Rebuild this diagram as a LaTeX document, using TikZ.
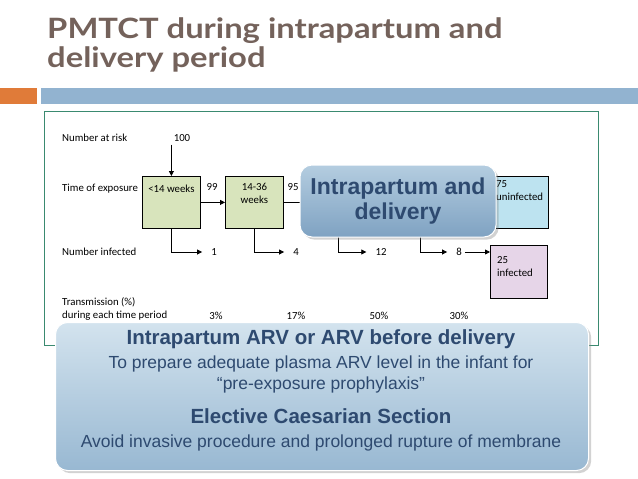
\documentclass[tikz,border=0pt]{standalone}
\usepackage{fontspec}
\setmainfont{Liberation Sans}
\newfontfamily\titlefont{Lato}
\newfontfamily\smallfont{Carlito}
\usetikzlibrary{arrows.meta,shadows}
\definecolor{titlec}{HTML}{74625B}
\definecolor{orangec}{HTML}{E07B39}
\definecolor{bluebar}{HTML}{92B3D0}
\definecolor{frame}{HTML}{3A8A70}
\definecolor{greenbox}{HTML}{D8E4BC}
\definecolor{bluebox}{HTML}{BDE3F0}
\definecolor{pinkbox}{HTML}{E6D5E8}
\definecolor{txtc}{HTML}{2E4A70}
\definecolor{ovtop}{HTML}{B4CDE0}
\definecolor{ovbot}{HTML}{7FA2C2}
\definecolor{bptop}{HTML}{D3E3EE}
\definecolor{bpbot}{HTML}{98B8D2}
\tikzset{
  lab/.style={font=\smallfont\fontsize{10.8}{13}\selectfont, anchor=west, inner sep=0},
  num/.style={font=\smallfont\fontsize{10.8}{13}\selectfont, inner sep=0},
  stage/.style={draw=black, line width=0.8pt, minimum width=58pt, minimum height=52pt, inner sep=0, anchor=north west},
  arr/.style={-{Triangle[length=5pt,width=5pt]}, line width=0.8pt},
  panel/.style={rounded corners=12pt, draw=white, line width=1pt, drop shadow={opacity=0.35}},
}
\begin{document}
\begin{tikzpicture}[x=1pt,y=-1pt]
\useasboundingbox (0,0) rectangle (638,479);
\fill[white] (0,0) rectangle (638,479);
\node[font=\titlefont\bfseries\fontsize{28}{29}\selectfont, text=titlec, anchor=north west, align=left, inner sep=0, xscale=1.17] (title) at (47,17) {PMTCT during intrapartum and\\delivery period};
\fill[orangec] (0,88) rectangle (37,104);
\fill[bluebar] (41,88) rectangle (638,104);
\draw[frame, line width=0.8pt] (44,111) rectangle (598,345);
% labels
\node[lab] (l1) at (62,138) {Number at risk};
\node[lab] (l2) at (62,189) {Time of exposure};
\node[lab] (l3) at (62,252) {Number infected};
\node[lab, align=left] (l4) at (62,309) {Transmission (\%)\\during each time period};
\node[num] (n100) at (182,138) {100};
\node[stage, fill=greenbox] (b1) at (142,176) {};
\node[num] at ([yshift=14pt]b1.center) {<14 weeks};
\node[stage, fill=greenbox] (b2) at (225,176) {};
\node[num, align=center] at ([yshift=9pt]b2.center) {14-36\\weeks};
\node[stage, fill=bluebox, minimum width=55pt] (b4) at (493,176) {};
\node[num, align=left, anchor=north west] at (496,180) {75\\uninfected};
\node[stage, fill=pinkbox, minimum width=57pt, minimum height=53pt] (b5) at (490,245) {};
\node[num, align=left, anchor=north west] at (497,256) {25\\infected};
\coordinate (c3) at (338,203);
\coordinate (c4) at (420,203);
\draw[arr] (n100.south -| b1.north) ++(0,3) -- (b1.north);
\node[num] (n99) at (212,187) {99};
\node[num] (n95) at (293,187) {95};
\draw[arr] (b1.east) -- (b2.west);
\draw[line width=0.8pt] (b2.east) -- (c3);
\node[num] (i1) at (214,252) {1};
\node[num] (i2) at (296,252) {4};
\node[num] (i3) at (381,252) {12};
\node[num] (i4) at (459,252) {8};
\draw[arr] (b1.south) |- ([xshift=-9pt]i1.west);
\draw[arr] (b2.south) |- ([xshift=-9pt]i2.west);
\draw[arr] (c3) |- ([xshift=-9pt]i3.west);
\draw[arr] (c4) |- ([xshift=-9pt]i4.west);
\draw[arr] ([xshift=3pt]i4.east) -- (i4.east -| b5.west);
\node[num] (p1) at (216,316) {3\%};
\node[num] (p2) at (296,316) {17\%};
\node[num] (p3) at (379,316) {50\%};
\node[num] (p4) at (459,316) {30\%};
% overlay
\node[panel, top color=ovtop, bottom color=ovbot, minimum width=196pt, minimum height=72pt, text=txtc, font=\bfseries\fontsize{23}{25}\selectfont, align=center] (ov) at (398,201) {Intrapartum and\\delivery};
\node[panel, top color=bptop, bottom color=bpbot, minimum width=533pt, minimum height=148pt, anchor=north west] (bp) at (55,322) {};
\node[font=\bfseries\fontsize{20.5}{22}\selectfont, text=txtc] (t1) at (321,339) {Intrapartum ARV or ARV before delivery};
\node[font=\fontsize{17.5}{19}\selectfont, text=txtc] (t2) at (321,364) {To prepare adequate plasma ARV level in the infant for};
\node[font=\fontsize{17.5}{19}\selectfont, text=txtc] (t3) at (321,385) {“pre-exposure prophylaxis”};
\node[font=\bfseries\fontsize{20.5}{22}\selectfont, text=txtc] (t4) at (321,416) {Elective Caesarian Section};
\node[font=\fontsize{17.5}{19}\selectfont, text=txtc] (t5) at (321,443) {Avoid invasive procedure and prolonged rupture of membrane};
\end{tikzpicture}
\end{document}
